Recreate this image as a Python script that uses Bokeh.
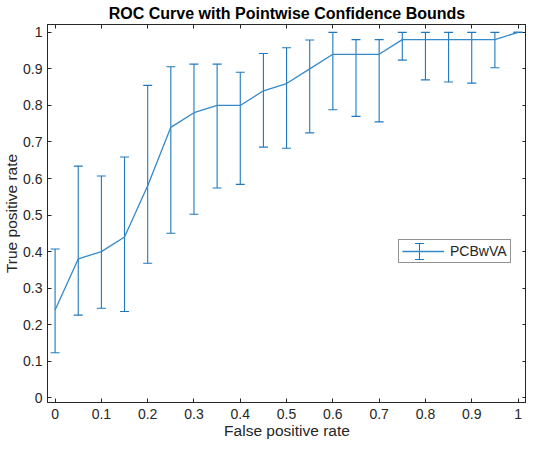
import numpy as np
from bokeh.plotting import figure
from bokeh.models import (Range1d, FixedTicker, LinearAxis, Whisker, TeeHead,
                          ColumnDataSource, Legend, LegendItem, Arrow)
from bokeh.embed import file_html
from bokeh.resources import INLINE

# ---- data ----
fpr = [0.00, 0.05, 0.10, 0.15, 0.20, 0.25, 0.30, 0.35, 0.40, 0.45, 0.50,
       0.55, 0.60, 0.65, 0.70, 0.75, 0.80, 0.85, 0.90, 0.95, 1.00]
tpr = [0.24, 0.38, 0.40, 0.44, 0.58, 0.74, 0.78, 0.80, 0.80, 0.84, 0.86,
       0.90, 0.94, 0.94, 0.94, 0.98, 0.98, 0.98, 0.98, 0.98, 1.00]
tpr_lower = [0.123, 0.226, 0.245, 0.236, 0.368, 0.450, 0.502, 0.574, 0.584, 0.686, 0.683,
             0.725, 0.788, 0.770, 0.755, 0.924, 0.870, 0.864, 0.861, 0.903, 1.00]
tpr_upper = [0.407, 0.634, 0.607, 0.659, 0.855, 0.906, 0.913, 0.913, 0.891, 0.942, 0.958,
             0.979, 1.000, 0.980, 0.980, 1.000, 1.000, 1.000, 1.000, 1.000, 1.00]
series_name = "PCBwVA"
x_ticks = [0, 0.1, 0.2, 0.3, 0.4, 0.5, 0.6, 0.7, 0.8, 0.9, 1.0]
x_tick_labels = ["0", "0.1", "0.2", "0.3", "0.4", "0.5", "0.6", "0.7", "0.8", "0.9", "1"]
y_ticks = [0, 0.1, 0.2, 0.3, 0.4, 0.5, 0.6, 0.7, 0.8, 0.9, 1.0]
y_tick_labels = ["0", "0.1", "0.2", "0.3", "0.4", "0.5", "0.6", "0.7", "0.8", "0.9", "1"]

BAR_BLUE = "#1f78bd"
LINE_BLUE = "#3489c9"
AX = "#262626"
FONT = "Liberation Sans"

src = ColumnDataSource(dict(fpr=fpr, tpr=tpr, lower=tpr_lower, upper=tpr_upper))

p = figure(width=526, height=441, output_backend="svg", toolbar_location=None,
           x_range=Range1d(-0.0164, 1.0183), y_range=Range1d(-0.013, 1.0215),
           title="ROC Curve with Pointwise Confidence Bounds",
           min_border_left=0, min_border_right=0, min_border_top=0, min_border_bottom=0)
p.background_fill_color = "white"
p.border_fill_color = "white"
p.outline_line_color = AX
p.outline_line_width = 1
p.xgrid.visible = False
p.ygrid.visible = False

p.title.text_font = FONT
p.title.text_font_size = "16px"
p.title.text_font_style = "bold"
p.title.text_color = "#000000"
p.title.align = "center"
p.title.standoff = 5
p.title.offset = 0

def style_axis(ax, ticks, labels, show_labels=True, standoff=5):
    ax.ticker = FixedTicker(ticks=ticks)
    ax.major_tick_in = 4
    ax.major_tick_out = 0
    ax.minor_tick_line_color = None
    ax.axis_line_color = AX
    ax.major_tick_line_color = AX
    if show_labels:
        ax.major_label_overrides = {t: l for t, l in zip(ticks, labels)}
        ax.major_label_text_color = AX
        ax.major_label_text_font = FONT
        ax.major_label_text_font_size = "14px"
        ax.major_label_standoff = standoff
    else:
        ax.major_label_text_color = None
        ax.major_label_text_alpha = 0
        ax.major_label_text_font_size = "0px"
        ax.major_label_standoff = 0
    ax.axis_label_text_font = FONT
    ax.axis_label_text_font_size = "15.5px"
    ax.axis_label_text_font_style = "normal"
    ax.axis_label_text_color = AX
    ax.axis_label_standoff = 0

style_axis(p.xaxis[0], x_ticks, x_tick_labels, standoff=6)
style_axis(p.yaxis[0], y_ticks, y_tick_labels, standoff=5)
p.xaxis[0].axis_label = "False positive rate"
p.yaxis[0].axis_label = "True positive rate"

top_ax = LinearAxis()
style_axis(top_ax, x_ticks, x_tick_labels, show_labels=False)
right_ax = LinearAxis()
style_axis(right_ax, y_ticks, y_tick_labels, show_labels=False)
p.add_layout(top_ax, "above")
p.add_layout(right_ax, "right")

# error-bar icon for the legend (drawn under a transparent legend box)
icon = Arrow(x_start=372, y_start=143, x_end=372, y_end=159,
             start_units="screen", end_units="screen",
             line_color=BAR_BLUE, line_width=1.1,
             start=TeeHead(size=9, line_color=BAR_BLUE, line_width=1.1),
             end=TeeHead(size=9, line_color=BAR_BLUE, line_width=1.1))
p.add_layout(icon)

# error bars
whisk = Whisker(source=src, base="fpr", upper="upper", lower="lower",
                line_color=BAR_BLUE, line_width=1.1,
                upper_head=TeeHead(size=9, line_color=BAR_BLUE, line_width=1.1),
                lower_head=TeeHead(size=9, line_color=BAR_BLUE, line_width=1.1))
p.add_layout(whisk)

line_r = p.line("fpr", "tpr", source=src, line_color=LINE_BLUE, line_width=1.3)

legend = Legend(items=[LegendItem(label=series_name, renderers=[line_r])],
                location=(351, 139), orientation="vertical",
                border_line_color=AX, border_line_width=1,
                background_fill_color=None, background_fill_alpha=0.0,
                padding=3, spacing=0, margin=0,
                glyph_width=42, glyph_height=16, label_standoff=6,
                label_text_font=FONT, label_text_font_size="14px", label_text_color=AX,
                label_height=16)
p.add_layout(legend)

open("out.html", "w").write(file_html(p, INLINE))
